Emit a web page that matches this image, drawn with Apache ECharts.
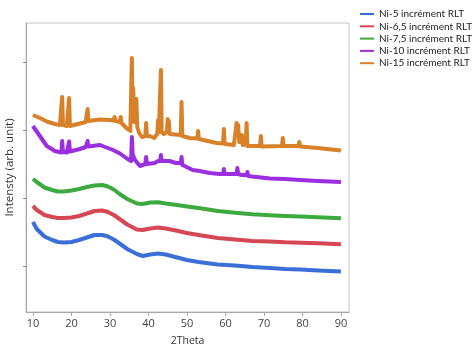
<!DOCTYPE html>
<html>
<head>
<meta charset="utf-8">
<script src="https://cdn.jsdelivr.net/npm/echarts@6/dist/echarts.min.js"></script>
<style>
html,body{margin:0;padding:0;background:#ffffff;}
#chart{width:474px;height:348px;}
</style>
</head>
<body>
<div id="chart"></div>
<script>
// ---- Data (intensity in arbitrary units) ----
var seriesNames = ['Ni-5 incrément RLT', 'Ni-6,5 incrément RLT', 'Ni-7,5 incrément RLT', 'Ni-10 incrément RLT', 'Ni-15 incrément RLT'];
var xTicks = [10, 20, 30, 40, 50, 60, 70, 80, 90];
var yTicks = [46, 114, 182, 250];

var baseX = [10, 11, 13, 15, 16.5, 18, 20, 22, 24, 26, 28, 29.5, 31, 32.5, 34.5, 37, 38.5, 40.5, 42.5, 44.5, 46.5, 50, 53, 58, 62.5, 67, 71.5, 75.5, 79.5, 84, 87, 90];
var ni5Y  = [90, 83, 75.5, 72, 70, 69.5, 70, 72, 74.5, 77, 77, 75.5, 72.5, 68.5, 63, 58, 56, 57.5, 58.5, 57.5, 55.5, 52, 50, 47.5, 46.5, 45, 44, 43, 42.5, 41.5, 41, 40.5];
var ni65Y = [106, 102, 97, 95, 94, 94, 94.5, 96, 98.5, 101, 101.5, 100, 97, 93, 87.5, 82.5, 82, 83.5, 84.5, 83.5, 82, 79, 77, 74, 72.5, 71, 70.5, 69.7, 69.3, 68.7, 68.2, 67.7];
var ni75Y = [133, 130, 124.5, 122, 120.5, 120.5, 121.5, 123, 125, 126.5, 127, 125.5, 122.5, 118, 113, 108.5, 108, 109.5, 109.7, 108.5, 107.5, 105.5, 104, 101, 99.3, 97.7, 96.7, 96, 95.5, 94.7, 94.2, 93.7];

var ni10X = [10, 11.8, 13.6, 15.7, 17.4, 17.6, 17.8, 18.8, 19.2, 19.4, 19.6, 20.1, 22.2, 23.7, 24.0, 24.2, 24.4, 27.4, 30.8, 32.6, 34.4, 35.5, 35.7, 35.9, 36.1, 36.5, 37.8, 39.2, 39.4, 39.6, 41.6, 42.5, 43.05, 43.25, 43.45, 45.5, 47.1, 48.4, 48.6, 48.8, 49.4, 51.5, 53.3, 55.9, 58.5, 59.4, 59.6, 59.8, 62.2, 62.9, 63.1, 63.3, 64.2, 65.5, 65.7, 65.9, 66.9, 71.6, 75.5, 79.4, 84, 90];
var ni10Y = [186, 176, 166, 161, 159.5, 171, 160, 159.5, 160, 170.5, 160.5, 160.5, 163, 165, 165.5, 171, 165.5, 167, 162, 158.5, 153.5, 151, 175, 158, 160, 152, 146, 148, 155, 148, 149, 151, 151, 157, 151, 151, 149, 149, 155, 147, 146, 142, 141, 139, 138, 138, 143, 138, 138, 138, 144, 138, 137, 137, 140, 136, 135.5, 133.5, 133, 132, 131, 130];

var ni15X = [10, 11.8, 13.6, 15.7, 17, 17.4, 17.6, 17.8, 18.8, 19.2, 19.4, 19.6, 20.1, 22.2, 23.7, 24.0, 24.2, 24.4, 27.4, 30, 31.0, 31.2, 31.4, 32.6, 32.8, 33.0, 34.4, 35.3, 35.55, 35.7, 35.85, 36.05, 36.3, 36.6, 36.85, 37.1, 37.6, 38.3, 39.2, 39.4, 39.6, 40.3, 41.5, 42.3, 42.5, 42.7, 43.05, 43.25, 43.45, 44.0, 44.8, 45.0, 45.15, 45.3, 45.5, 46.0, 48.4, 48.6, 48.8, 50.7, 52.7, 52.9, 53.1, 57.7, 59.4, 59.6, 59.8, 62.2, 62.7, 62.9, 63.1, 63.3, 63.6, 64.1, 64.3, 64.5, 65.3, 65.5, 65.7, 69.0, 69.2, 69.4, 74.7, 74.9, 75.1, 79.0, 79.2, 79.4, 84, 90];
var ni15Y = [197, 194, 190.5, 188, 187, 187, 215, 187, 186, 186, 214, 186, 186.5, 188.5, 190, 190.5, 203, 191, 192.5, 192, 191.5, 195, 191, 190, 195, 189, 183.5, 181, 181, 254, 200, 224, 190, 195, 213, 185, 179, 175, 176, 189, 176, 176, 174, 178, 192, 180, 180, 242, 180, 178, 180, 193, 185, 191, 178, 177, 177, 210, 176, 174, 173.5, 181, 173, 169, 168.5, 183, 168, 167, 168, 189, 178, 187, 170, 170, 177, 167, 168, 189, 166, 166, 176, 165.5, 166, 174, 166, 166, 170, 165.5, 164, 161.5];

var colors = ['#3b6fd8', '#d74653', '#3caa3f', '#9a2ee0', '#d88129'];

function pairs(xs, ys) {
  var out = [];
  for (var i = 0; i < xs.length; i++) out.push([xs[i], ys[i]]);
  return out;
}

var seriesData = [
  pairs(baseX, ni5Y),
  pairs(baseX, ni65Y),
  pairs(baseX, ni75Y),
  pairs(ni10X, ni10Y),
  pairs(ni15X, ni15Y)
];

var chart = echarts.init(document.getElementById('chart'), null, {renderer: 'canvas'});
var font = "'Open Sans', 'Noto Sans', sans-serif";
var legendFont = "Lato, 'Open Sans', sans-serif";

var option = {
  backgroundColor: '#ffffff',
  animation: false,
  color: colors,
  textStyle: {fontFamily: font},
  grid: {left: 26, top: 23, right: 125, bottom: 36, outerBoundsMode: 'none', containLabel: false, show: true, borderColor: '#c4c4c4', borderWidth: 1, backgroundColor: '#ffffff'},
  legend: {
    orient: 'vertical',
    left: 355,
    top: 3,
    icon: 'rect',
    itemWidth: 14,
    itemHeight: 2,
    itemGap: 0.3,
    textStyle: {fontSize: 10, color: '#222222', fontFamily: legendFont, lineHeight: 12},
    data: seriesNames
  },
  xAxis: {
    type: 'value',
    min: 8.2,
    max: 92.1,
    name: '2Theta',
    nameLocation: 'middle',
    nameGap: 24,
    nameTextStyle: {fontSize: 10.5, color: '#333333', fontFamily: font},
    axisLine: {show: true, lineStyle: {color: '#a8a8a8'}},
    axisTick: {show: true, length: 4, customValues: xTicks, lineStyle: {color: '#a8a8a8'}},
    axisLabel: {customValues: xTicks, fontSize: 11, color: '#444444', margin: 6, fontFamily: font},
    splitLine: {show: false}
  },
  yAxis: {
    type: 'value',
    min: 0,
    max: 289,
    name: 'Intensty (arb. unit)',
    nameLocation: 'middle',
    nameGap: 10,
    nameRotate: 90,
    nameTextStyle: {fontSize: 11.5, color: '#333333', fontFamily: font},
    axisLine: {show: true, lineStyle: {color: '#a8a8a8'}},
    axisTick: {show: true, length: 3, customValues: yTicks, lineStyle: {color: '#888888'}},
    axisLabel: {show: false},
    splitLine: {show: false}
  },
  series: seriesNames.map(function (n, i) {
    return {
      name: n,
      type: 'line',
      data: seriesData[i],
      showSymbol: false,
      symbol: 'none',
      lineStyle: {width: 4, color: colors[i], join: 'round'},
      itemStyle: {color: colors[i]},
      z: 2 + i
    };
  })
};
chart.setOption(option);
</script>
</body>
</html>
